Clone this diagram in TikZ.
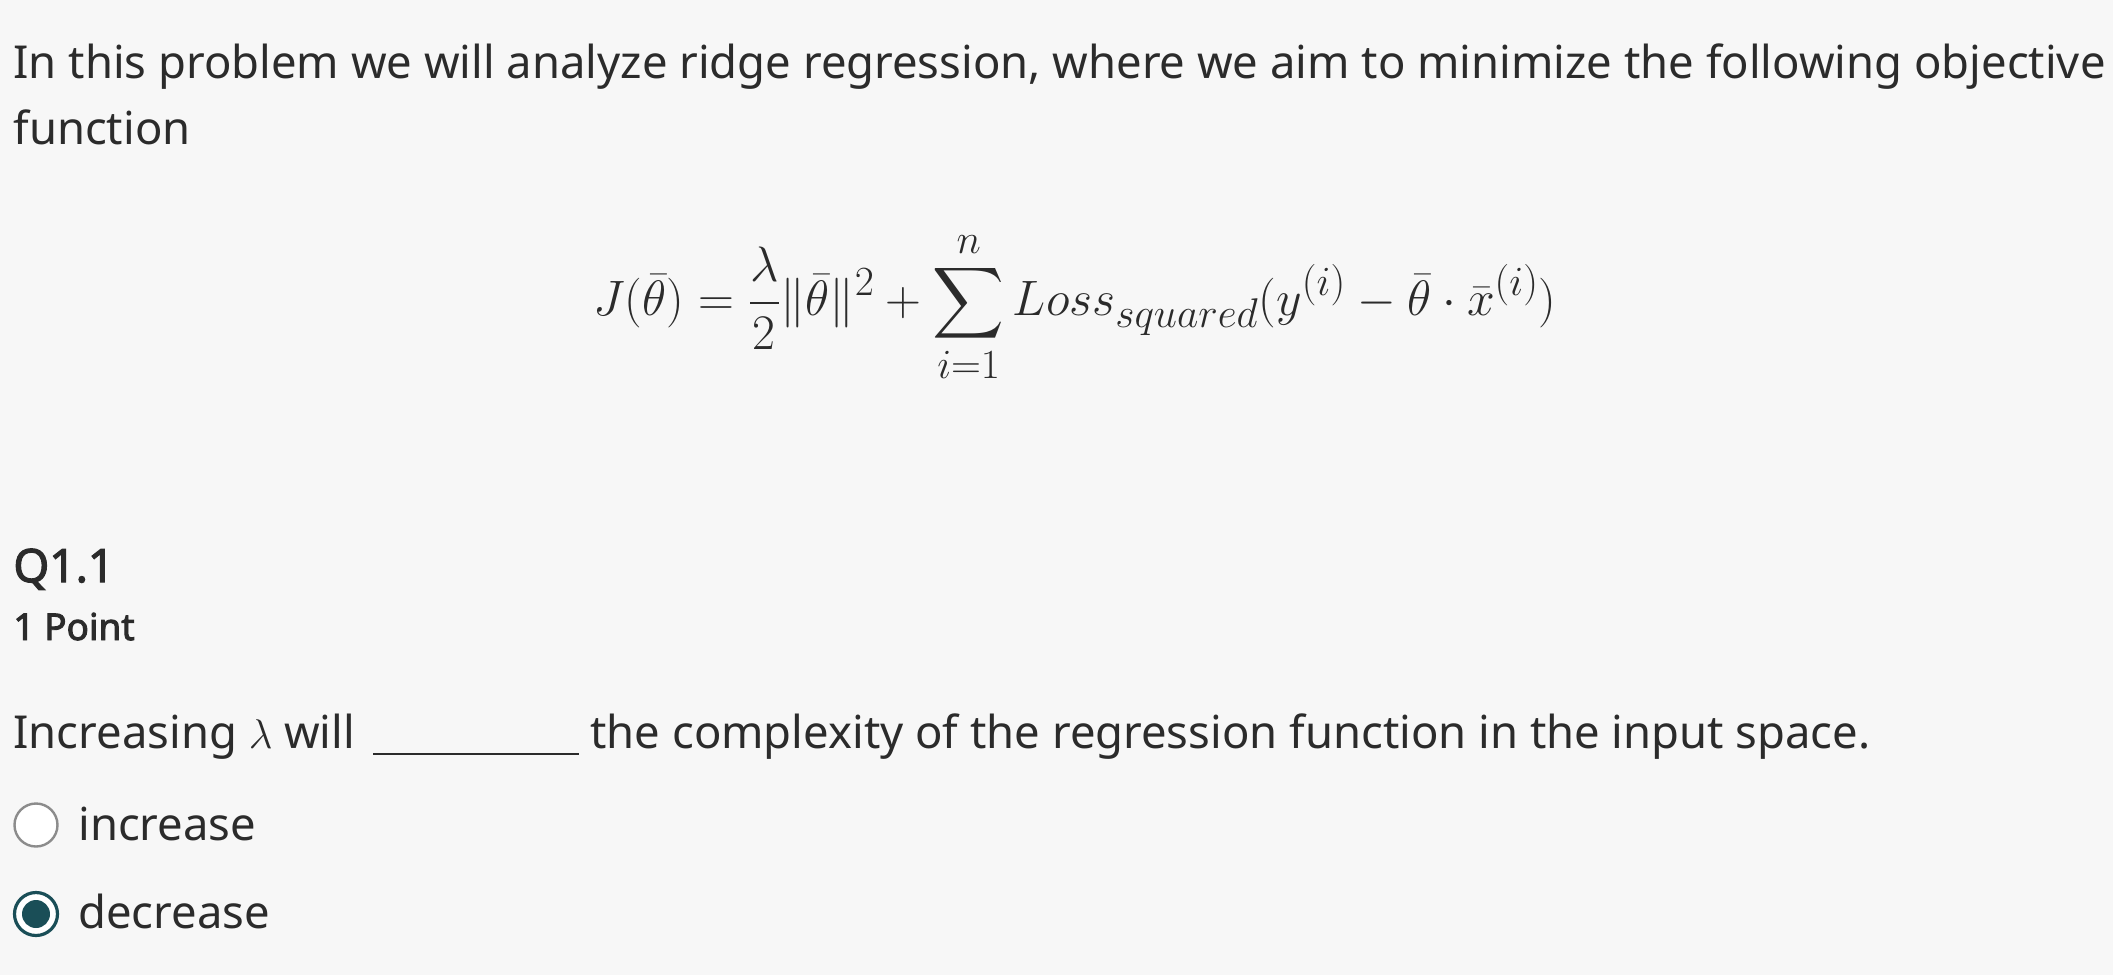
\documentclass[tikz,border=0pt]{standalone}
\usepackage{fontspec}
\setmainfont{Noto Sans}
\newfontfamily\bfn{Noto Sans}[FakeBold=2.5]
\usepackage{amsmath}
\definecolor{bg}{HTML}{F7F7F7}
\definecolor{tx}{HTML}{2B2B2B}
\definecolor{teal}{HTML}{1A4E57}
\begin{document}
\begin{tikzpicture}[x=0.5pt,y=-0.5pt,
  txt/.style={anchor=base west,inner sep=0pt,text=tx,font=\fontsize{22.7}{28}\selectfont}]
\fill[bg] (0,0) rectangle (2113,975);
\useasboundingbox (0,0) rectangle (2113,975);
\node[txt] (l1) at (13,78) {In this problem we will analyze ridge regression, where we aim to minimize the following objective};
\node[txt] (l2) at (13,144) {function};
\node[inner sep=0pt,text=tx,font=\fontsize{31}{37}\selectfont] (eq) at (1075,307)
  {$\displaystyle J(\bar{\theta}) = \frac{\lambda}{2}\|\bar{\theta}\|^2 + \sum_{i=1}^{n} Loss_{squared}(y^{(i)} - \bar{\theta}\cdot\bar{x}^{(i)})$};
\node[txt,font=\bfn\fontsize{23}{28}\selectfont] (q) at (13,582) {Q1.1};
\node[txt,font=\bfn\fontsize{18.5}{22}\selectfont] (pt) at (13,640) {1 Point};
\node[txt] (qq) at (13,748) {Increasing $\lambda$ will};
\draw[tx,line width=1pt] (373,754) coordinate (b1) -- (579,754) coordinate (b2);
\node[txt] (qr) at (590,748) {the complexity of the regression function in the input space.};
\node[draw=gray!90,line width=1.2pt,fill=white,circle,minimum size=21.5pt,inner sep=0pt] (r1) at (36,825) {};
\node[txt] (o1) at (78,840) {increase};
\node[draw=teal,line width=1.6pt,fill=white,circle,minimum size=21.5pt,inner sep=0pt] (r2) at (36,914) {};
\fill[teal] (r2.center) circle (7pt);
\node[txt] (o2) at (78,928) {decrease};
\end{tikzpicture}
\end{document}
